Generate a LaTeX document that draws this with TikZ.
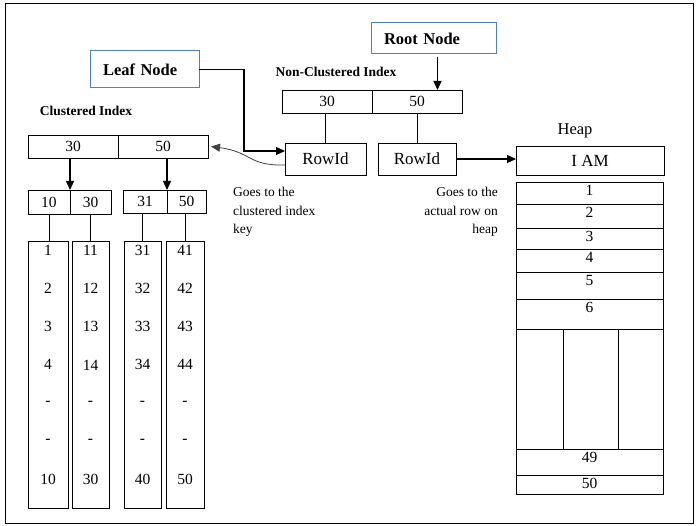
\documentclass[tikz,border=0pt]{standalone}
\usepackage{fontspec}
\setmainfont{Liberation Serif}
\usetikzlibrary{positioning}
\usetikzlibrary{arrows.meta}

\definecolor{tagblue}{RGB}{79,129,189}

\begin{document}
\begin{tikzpicture}[x=1pt, y=-1pt, >={Triangle[length=9pt,width=8pt]},
  every node/.style={font=\fontsize{15.5}{18}\selectfont},
  cell/.style={rectangle, draw, line width=0.9pt, inner sep=0pt, outer sep=0pt, minimum height=23pt},
  bigcell/.style={cell, font=\fontsize{17}{20}\selectfont},
  tag/.style={rectangle, draw=tagblue, line width=1pt, inner xsep=13pt, inner ysep=0pt, outer sep=0pt, align=left, font=\bfseries\fontsize{16.5}{19}\selectfont},
  title/.style={font=\bfseries\fontsize{13.5}{16}\selectfont},
  note/.style={inner sep=0pt, font=\fontsize{13.5}{18.5}\selectfont},
  link/.style={line width=0.9pt},
  arr/.style={->, line width=1.2pt}]

  \useasboundingbox (0,0) rectangle (697,526);
  \draw[line width=0.9pt] (5,3) rectangle (693,523);

  % labels
  \node[tag, text width=83pt, minimum height=37pt, anchor=north west] (leaf) at (90,51) {Leaf Node};
  \node[tag, text width=99pt, minimum height=31pt, anchor=north west] (root) at (371,23) {Root Node};
  \node[title] (cititle) at (86,111) {Clustered Index};
  \node[title] (ncititle) at (336,72) {Non-Clustered Index};
  \node[font=\fontsize{16.5}{19}\selectfont] (heaptitle) at (575,131) {Heap};

  % non-clustered index
  \node[cell, minimum width=90pt, anchor=north west] (nc30) at (282,90) {30};
  \node[cell, minimum width=90pt, right=0pt of nc30] (nc50) {50};
  \node[bigcell, minimum width=81pt, minimum height=32pt, anchor=north west] (rid1) at (285,143) {RowId};
  \node[bigcell, minimum width=78pt, minimum height=32pt, right=12pt of rid1] (rid2) {RowId};

  % clustered index
  \node[cell, minimum width=90pt, anchor=north west] (ci30) at (28,135) {30};
  \node[cell, minimum width=90pt, right=0pt of ci30] (ci50) {50};
  \node[cell, minimum width=42pt, minimum height=24pt, anchor=north west] (la10) at (28,190) {10};
  \node[cell, minimum width=41pt, minimum height=24pt, right=0pt of la10] (la30) {30};
  \node[cell, minimum width=44pt, minimum height=23pt, anchor=north west] (lb31) at (123,190) {31};
  \node[cell, minimum width=39pt, minimum height=23pt, right=0pt of lb31] (lb50) {50};

  \foreach \name/\x/\w/\vals in {c1/28/40/{1,2,3,4,-,-,10}, c2/72/37/{11,12,13,14,-,-,30},
                                 c3/124/37/{31,32,33,34,-,-,40}, c4/166/38/{41,42,43,44,-,-,50}} {
    \node[cell, minimum width=\w pt, minimum height=267pt, anchor=north west] (\name) at (\x,241) {};
    \foreach \v [count=\i from 0] in \vals
      \node (\name-\i) at ([yshift={-(9+38.3*\i)*1pt}]\name.north) {\v};
  }

  % heap
  \node[bigcell, minimum width=148pt, minimum height=29pt, anchor=north west] (iam) at (516,146) {I AM};
  \foreach \n/\t/\h in {1/182/22, 2/204/24, 3/228/21, 4/249/23, 5/272/27, 6/299/30, 49/449/26, 50/475/19}
    \node[cell, minimum width=147pt, minimum height=\h pt, anchor=north west,
          label={[anchor=north, inner sep=3pt]north:\n}] (h\n) at (516,\t) {};
  \node[cell, minimum width=47pt, minimum height=120pt, anchor=north west] (gapa) at (516,329) {};
  \node[cell, minimum width=55pt, minimum height=120pt, right=0pt of gapa] (gapb) {};
  \node[cell, minimum width=45pt, minimum height=120pt, right=0pt of gapb] (gapc) {};

  % notes
  \node[note, anchor=north west, align=left] (note1) at (233,187) {Goes to the\\clustered index\\key};
  \node[note, anchor=north east, align=right] (note2) at (498,187) {Goes to the\\actual row on\\heap};

  % connectors
  \draw[link] (rid1.north) -- (rid1.north |- nc30.south);
  \draw[link] (rid2.north) -- (rid2.north |- nc50.south);
  \draw[link] (la10.south) -- (la10.south |- c1.north);
  \draw[link] (la30.south) -- (la30.south |- c2.north);
  \draw[link] (c3.north) -- (c3.north |- lb31.south);
  \draw[link] (c4.north) -- (c4.north |- lb50.south);

  \coordinate (rt) at ([xshift=4pt,yshift=-3pt]root.south);
  \draw[arr] (rt) -- (rt |- nc50.north);
  \draw[arr] (ci30.south -| la10.east) -- (la10.north east);
  \draw[arr] (ci50.south -| lb31.east) -- (lb31.north east);
  \draw[arr] (leaf.east) -- ++(45,0) |- ([yshift=8pt]rid1.west);
  \draw[arr] (rid2.east) -- (rid2.east -| iam.west);
  \draw[->, line width=0.8pt, black!75] ([yshift=-6pt]rid1.west) .. controls (248,166) and (252,152) .. ([xshift=3pt]ci50.east);
\end{tikzpicture}
\end{document}
